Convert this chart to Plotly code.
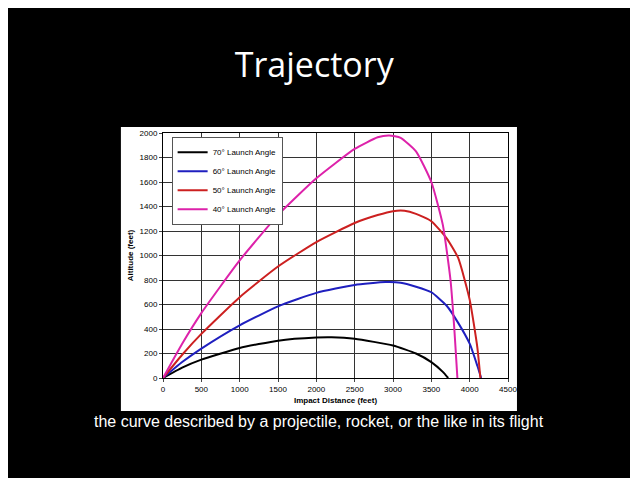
import plotly.graph_objects as go

# values
x70 = [0, 250, 500, 1000, 1500, 2000, 2200, 2500, 3000, 3300, 3500, 3650, 3720]
y70 = [0, 85, 150, 245, 305, 330, 332, 320, 265, 200, 130, 50, 0]
x60 = [0, 250, 500, 1000, 1500, 2000, 2500, 2900, 3100, 3300, 3500, 3700, 3850, 4000, 4100, 4150]
y60 = [0, 130, 240, 430, 585, 695, 760, 783, 778, 745, 700, 590, 450, 280, 100, 0]
x50 = [0, 250, 500, 1000, 1500, 2000, 2500, 2800, 3000, 3150, 3300, 3500, 3700, 3850, 4000, 4100, 4140]
y50 = [0, 190, 360, 660, 910, 1110, 1265, 1330, 1362, 1365, 1340, 1280, 1140, 980, 640, 250, 0]
x40 = [0, 250, 500, 1000, 1500, 2000, 2500, 2800, 2950, 3100, 3300, 3500, 3650, 3750, 3800, 3830, 3840]
y40 = [0, 280, 530, 960, 1330, 1630, 1870, 1965, 1980, 1960, 1850, 1600, 1250, 800, 400, 100, 0]

series = [
    ("70° Launch Angle", x70, y70, "black"),
    ("60° Launch Angle", x60, y60, "#1f1fbf"),
    ("50° Launch Angle", x50, y50, "#cc2020"),
    ("40° Launch Angle", x40, y40, "#dd22aa"),
]

fig = go.Figure()
for name, xs, ys, col in series:
    fig.add_scatter(x=xs, y=ys, mode="lines", name=name,
                    line=dict(color=col, width=2, shape="spline", smoothing=0.5))

small = dict(family="Arial", size=8, color="black")
fig.update_layout(
    width=638, height=478,
    paper_bgcolor="black", plot_bgcolor="white",
    margin=dict(l=155, r=138, t=125, b=108),
    title=dict(text="Trajectory", xref="container", x=0.48, y=0.905, xanchor="center",
               font=dict(family="Open Sans", size=34, color="white")),
    legend=dict(x=0.025, y=0.985, xanchor="left", yanchor="top",
                bgcolor="white", bordercolor="#555", borderwidth=1,
                tracegroupgap=0, font=small),
    shapes=[dict(type="rect", xref="paper", yref="paper", layer="below",
                 x0=-0.122, x1=1.026, y0=-0.135, y1=1.024,
                 fillcolor="white", line=dict(width=0))],
    annotations=[dict(text="the curve described by a projectile, rocket, or the like in its flight",
                      xref="paper", yref="paper", x=0.452, y=-0.22, showarrow=False,
                      font=dict(family="Liberation Sans", size=16, color="white"))],
)
fig.update_xaxes(range=[0, 4500], dtick=500, showgrid=True, gridcolor="#333",
                 linecolor="black", mirror=True, ticks="outside", ticklen=3,
                 tickfont=small, zeroline=False,
                 title=dict(text="<b>Impact Distance (feet)</b>", font=small, standoff=4))
fig.update_yaxes(range=[0, 2000], dtick=200, showgrid=True, gridcolor="#333",
                 linecolor="black", mirror=True, ticks="outside", ticklen=3,
                 tickfont=small, zeroline=False,
                 title=dict(text="<b>Altitude (feet)</b>", font=small, standoff=4))

fig.write_html("out.html")
